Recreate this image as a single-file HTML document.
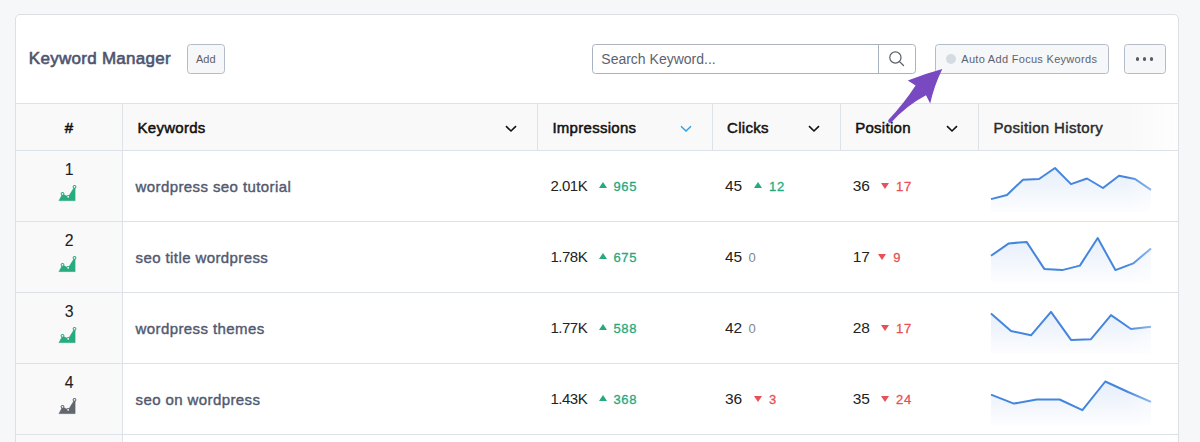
<!DOCTYPE html>
<html><head><meta charset="utf-8"><style>
*{box-sizing:border-box;margin:0;padding:0}
html,body{width:1200px;height:442px;overflow:hidden;background:#f6f7f9;font-family:"Liberation Sans",sans-serif}
.a{position:absolute;white-space:nowrap}
#card{position:absolute;left:15px;top:14px;width:1164px;height:470px;background:#fff;border:1px solid #dcdfe4;border-radius:5px;overflow:hidden}
.btn{position:absolute;border:1px solid #b3bcc8;border-radius:3.5px;background:#f6f7f9}
.hl{position:absolute;left:0;width:1164px;height:1px;background:#dde1e8}
.vl{position:absolute;width:1px;background:#dde1e8}
.hd{font-weight:400;color:#111;letter-spacing:0.28px;-webkit-text-stroke:0.5px #111}
.kw{font-weight:400;color:#525970;letter-spacing:0.4px;-webkit-text-stroke:0.4px #525970}
.num{color:#222}
.up{color:#27a97f;letter-spacing:0.6px;-webkit-text-stroke:0.32px #27a97f}
.dn{color:#e84f57;letter-spacing:0.6px;-webkit-text-stroke:0.3px #e84f57}
.zero{color:#7e8791}
</style></head><body>
<div id="card">
<div class="a " style="left:12.80px;top:35.21px;font-size:17px;line-height:17px;letter-spacing:0.28px;-webkit-text-stroke:0.6px #4d5470;color:#4d5470">Keyword Manager</div>
<div class="btn" style="left:171px;top:29px;width:38px;height:30px;"></div>
<div class="a " style="left:180.00px;top:38.59px;font-size:11px;line-height:11px;color:#5a5f67">Add</div>
<div class="btn" style="left:576px;top:29px;width:324px;height:30px;background:#fff;border-color:#a9b3c0"></div>
<div class="a" style="left:862px;top:29px;width:1px;height:30px;background:#a9b3c0"></div>
<div class="a " style="left:585.30px;top:37.15px;font-size:14px;line-height:14px;color:#5c6370">Search Keyword...</div>
<svg class="a" style="left:871px;top:34px" width="20" height="20" viewBox="0 0 20 20"><circle cx="8.4" cy="8.5" r="5.6" fill="none" stroke="#5a606c" stroke-width="1.2"/><line x1="12.5" y1="12.6" x2="16.5" y2="16.5" stroke="#5a606c" stroke-width="1.3" stroke-linecap="round"/></svg>
<div class="btn" style="left:919px;top:29px;width:174px;height:30px;"></div>
<div class="a" style="left:930px;top:39px;width:10px;height:10px;border-radius:50%;background:#d6dbe2"></div>
<div class="a " style="left:945.30px;top:38.59px;font-size:11px;line-height:11px;letter-spacing:0.3px;color:#5c6370">Auto Add Focus Keywords</div>
<div class="btn" style="left:1108px;top:29px;width:42px;height:30px;"></div>
<div class="a" style="left:1119.80px;top:42.10px;width:3.6px;height:3.6px;border-radius:50%;background:#575d66"></div>
<div class="a" style="left:1126.90px;top:42.10px;width:3.6px;height:3.6px;border-radius:50%;background:#575d66"></div>
<div class="a" style="left:1133.90px;top:42.10px;width:3.6px;height:3.6px;border-radius:50%;background:#575d66"></div>
<div class="a" style="left:-1px;top:88px;width:1164px;height:47px;background:#f9f9f9"></div>
<div class="a" style="left:-1px;top:135px;width:107px;height:330px;background:#f9f9fa"></div>
<div class="hl" style="top:88px"></div>
<div class="hl" style="top:135px"></div>
<div class="hl" style="top:206px"></div>
<div class="hl" style="top:277px"></div>
<div class="hl" style="top:348px"></div>
<div class="hl" style="top:419px"></div>
<div class="vl" style="left:106px;top:88px;height:400px"></div>
<div class="vl" style="left:521px;top:88px;height:47px"></div>
<div class="vl" style="left:696px;top:88px;height:47px"></div>
<div class="vl" style="left:824px;top:88px;height:47px"></div>
<div class="vl" style="left:962px;top:88px;height:47px"></div>
<div class="a hd" style="left:48.80px;top:104.70px;font-size:15px;line-height:15px;">#</div>
<div class="a hd" style="left:121.50px;top:104.70px;font-size:15px;line-height:15px;">Keywords</div>
<div class="a hd" style="left:536.40px;top:104.70px;font-size:15px;line-height:15px;">Impressions</div>
<div class="a hd" style="left:711.10px;top:104.70px;font-size:15px;line-height:15px;">Clicks</div>
<div class="a hd" style="left:839.20px;top:104.70px;font-size:15px;line-height:15px;">Position</div>
<div class="a hd" style="left:977.40px;top:104.70px;font-size:15px;line-height:15px;color:#2b2b2b;-webkit-text-stroke:0.45px #2b2b2b;letter-spacing:0.35px">Position History</div>
<svg class="a" style="left:489.1px;top:110px" width="12" height="8" viewBox="0 0 12 8"><path d="M1 1.2 L6 6 L11 1.2" fill="none" stroke="#111" stroke-width="1.6"/></svg>
<svg class="a" style="left:664.3px;top:110px" width="12" height="8" viewBox="0 0 12 8"><path d="M1 1.2 L6 6 L11 1.2" fill="none" stroke="#2c9fe6" stroke-width="1.4"/></svg>
<svg class="a" style="left:792.3px;top:110px" width="12" height="8" viewBox="0 0 12 8"><path d="M1 1.2 L6 6 L11 1.2" fill="none" stroke="#111" stroke-width="1.6"/></svg>
<svg class="a" style="left:929.8px;top:110px" width="12" height="8" viewBox="0 0 12 8"><path d="M1 1.2 L6 6 L11 1.2" fill="none" stroke="#111" stroke-width="1.6"/></svg>
<div class="a " style="left:48.70px;top:146.53px;font-size:15.8px;line-height:15.8px;color:#1e1e1e;width:8.8px;text-align:center;-webkit-text-stroke:0.1px #1e1e1e">1</div>
<svg class="a" style="left:42px;top:169px" width="20" height="18" viewBox="0 0 20 18"><path d="M0.8 16.7 L4.5 9.8 L10.2 12.8 L16.5 2.8 L17.2 3.5 L17.2 16.7 Z" fill="#29ab80" stroke="#29ab80" stroke-width="0.3"/><circle cx="4.5" cy="9.8" r="1.9" fill="#29ab80"/><circle cx="4.5" cy="9.8" r="0.9" fill="#fff"/><circle cx="10.2" cy="12.8" r="1.9" fill="#29ab80"/><circle cx="10.2" cy="12.8" r="0.9" fill="#fff"/><circle cx="16.5" cy="2.8" r="1.9" fill="#29ab80"/><circle cx="16.5" cy="2.8" r="0.9" fill="#fff"/></svg>
<div class="a kw" style="left:119.60px;top:164.30px;font-size:15px;line-height:15px;">wordpress seo tutorial</div>
<div class="a" style="left:0;top:0"></div><div class="a num" style="left:534.50px;top:163.30px;font-size:15px;line-height:15px;letter-spacing:-0.5px">2.01K</div>
<svg class="a" style="left:582.50px;top:167.00px" width="8" height="6" viewBox="0 0 8 6"><path d="M0 6 L4 0 L8 6 Z" fill="#27a97f"/></svg>
<div class="a up" style="left:597.50px;top:165.00px;font-size:13px;line-height:13px;">965</div>
<div class="a num" style="left:708.90px;top:162.88px;font-size:15.5px;line-height:15.5px;letter-spacing:0px">45</div>
<svg class="a" style="left:738.10px;top:167.00px" width="8" height="6" viewBox="0 0 8 6"><path d="M0 6 L4 0 L8 6 Z" fill="#27a97f"/></svg>
<div class="a up" style="left:753.10px;top:165.00px;font-size:13px;line-height:13px;">12</div>
<div class="a num" style="left:836.70px;top:162.88px;font-size:15.5px;line-height:15.5px;letter-spacing:0px">36</div>
<svg class="a" style="left:865.10px;top:168.00px" width="8" height="6" viewBox="0 0 8 6"><path d="M0 0 L8 0 L4 6 Z" fill="#e84f57"/></svg>
<div class="a dn" style="left:880.10px;top:165.00px;font-size:13px;line-height:13px;">17</div>
<svg class="a" style="left:973px;top:147px" width="166" height="50" viewBox="0 0 166 50"><defs><linearGradient id="g0" x1="0" y1="0" x2="0" y2="1"><stop offset="0" stop-color="#e6eefa"/><stop offset="1" stop-color="#e6eefa" stop-opacity="0.1"/></linearGradient></defs><path d="M2.0,50 L2.0,37.1 L18.0,33.0 L34.0,17.7 L50.0,17.0 L66.0,6.0 L82.0,22.1 L98.0,16.5 L114.0,26.0 L130.0,13.8 L146.0,17.0 L162.0,27.9 L162.0,50 Z" fill="url(#g0)"/><polyline points="2.0,37.1 18.0,33.0 34.0,17.7 50.0,17.0 66.0,6.0 82.0,22.1 98.0,16.5 114.0,26.0 130.0,13.8 146.0,17.0 162.0,27.9" fill="none" stroke="#4486de" stroke-width="2" stroke-linejoin="round"/></svg>
<div class="a " style="left:48.70px;top:217.53px;font-size:15.8px;line-height:15.8px;color:#1e1e1e;width:8.8px;text-align:center;-webkit-text-stroke:0.1px #1e1e1e">2</div>
<svg class="a" style="left:42px;top:240px" width="20" height="18" viewBox="0 0 20 18"><path d="M0.8 16.7 L4.5 9.8 L10.2 12.8 L16.5 2.8 L17.2 3.5 L17.2 16.7 Z" fill="#29ab80" stroke="#29ab80" stroke-width="0.3"/><circle cx="4.5" cy="9.8" r="1.9" fill="#29ab80"/><circle cx="4.5" cy="9.8" r="0.9" fill="#fff"/><circle cx="10.2" cy="12.8" r="1.9" fill="#29ab80"/><circle cx="10.2" cy="12.8" r="0.9" fill="#fff"/><circle cx="16.5" cy="2.8" r="1.9" fill="#29ab80"/><circle cx="16.5" cy="2.8" r="0.9" fill="#fff"/></svg>
<div class="a kw" style="left:119.60px;top:235.30px;font-size:15px;line-height:15px;">seo title wordpress</div>
<div class="a" style="left:0;top:0"></div><div class="a num" style="left:534.50px;top:234.30px;font-size:15px;line-height:15px;letter-spacing:-0.5px">1.78K</div>
<svg class="a" style="left:582.50px;top:238.00px" width="8" height="6" viewBox="0 0 8 6"><path d="M0 6 L4 0 L8 6 Z" fill="#27a97f"/></svg>
<div class="a up" style="left:597.50px;top:236.00px;font-size:13px;line-height:13px;">675</div>
<div class="a num" style="left:708.90px;top:233.88px;font-size:15.5px;line-height:15.5px;letter-spacing:0px">45</div>
<div class="a zero" style="left:732.40px;top:236.00px;font-size:13px;line-height:13px;">0</div>
<div class="a num" style="left:836.70px;top:233.88px;font-size:15.5px;line-height:15.5px;letter-spacing:0px">17</div>
<svg class="a" style="left:862.30px;top:239.00px" width="8" height="6" viewBox="0 0 8 6"><path d="M0 0 L8 0 L4 6 Z" fill="#e84f57"/></svg>
<div class="a dn" style="left:877.30px;top:236.00px;font-size:13px;line-height:13px;">9</div>
<svg class="a" style="left:973px;top:218px" width="166" height="50" viewBox="0 0 166 50"><defs><linearGradient id="g1" x1="0" y1="0" x2="0" y2="1"><stop offset="0" stop-color="#e6eefa"/><stop offset="1" stop-color="#e6eefa" stop-opacity="0.1"/></linearGradient></defs><path d="M2.0,50 L2.0,22.8 L19.8,10.4 L37.6,8.9 L55.3,35.9 L73.1,37.1 L90.9,32.6 L108.7,5.0 L126.4,37.1 L144.2,30.4 L162.0,15.5 L162.0,50 Z" fill="url(#g1)"/><polyline points="2.0,22.8 19.8,10.4 37.6,8.9 55.3,35.9 73.1,37.1 90.9,32.6 108.7,5.0 126.4,37.1 144.2,30.4 162.0,15.5" fill="none" stroke="#4486de" stroke-width="2" stroke-linejoin="round"/></svg>
<div class="a " style="left:48.70px;top:288.53px;font-size:15.8px;line-height:15.8px;color:#1e1e1e;width:8.8px;text-align:center;-webkit-text-stroke:0.1px #1e1e1e">3</div>
<svg class="a" style="left:42px;top:311px" width="20" height="18" viewBox="0 0 20 18"><path d="M0.8 16.7 L4.5 9.8 L10.2 12.8 L16.5 2.8 L17.2 3.5 L17.2 16.7 Z" fill="#29ab80" stroke="#29ab80" stroke-width="0.3"/><circle cx="4.5" cy="9.8" r="1.9" fill="#29ab80"/><circle cx="4.5" cy="9.8" r="0.9" fill="#fff"/><circle cx="10.2" cy="12.8" r="1.9" fill="#29ab80"/><circle cx="10.2" cy="12.8" r="0.9" fill="#fff"/><circle cx="16.5" cy="2.8" r="1.9" fill="#29ab80"/><circle cx="16.5" cy="2.8" r="0.9" fill="#fff"/></svg>
<div class="a kw" style="left:119.60px;top:306.30px;font-size:15px;line-height:15px;">wordpress themes</div>
<div class="a" style="left:0;top:0"></div><div class="a num" style="left:534.50px;top:305.30px;font-size:15px;line-height:15px;letter-spacing:-0.5px">1.77K</div>
<svg class="a" style="left:582.50px;top:309.00px" width="8" height="6" viewBox="0 0 8 6"><path d="M0 6 L4 0 L8 6 Z" fill="#27a97f"/></svg>
<div class="a up" style="left:597.50px;top:307.00px;font-size:13px;line-height:13px;">588</div>
<div class="a num" style="left:708.90px;top:304.88px;font-size:15.5px;line-height:15.5px;letter-spacing:0px">42</div>
<div class="a zero" style="left:732.40px;top:307.00px;font-size:13px;line-height:13px;">0</div>
<div class="a num" style="left:836.70px;top:304.88px;font-size:15.5px;line-height:15.5px;letter-spacing:0px">28</div>
<svg class="a" style="left:865.10px;top:310.00px" width="8" height="6" viewBox="0 0 8 6"><path d="M0 0 L8 0 L4 6 Z" fill="#e84f57"/></svg>
<div class="a dn" style="left:880.10px;top:307.00px;font-size:13px;line-height:13px;">17</div>
<svg class="a" style="left:973px;top:289px" width="166" height="50" viewBox="0 0 166 50"><defs><linearGradient id="g2" x1="0" y1="0" x2="0" y2="1"><stop offset="0" stop-color="#e6eefa"/><stop offset="1" stop-color="#e6eefa" stop-opacity="0.1"/></linearGradient></defs><path d="M2.0,50 L2.0,9.4 L22.0,26.9 L42.0,31.3 L62.0,7.9 L82.0,35.9 L102.0,35.2 L122.0,11.1 L142.0,25.0 L162.0,22.8 L162.0,50 Z" fill="url(#g2)"/><polyline points="2.0,9.4 22.0,26.9 42.0,31.3 62.0,7.9 82.0,35.9 102.0,35.2 122.0,11.1 142.0,25.0 162.0,22.8" fill="none" stroke="#4486de" stroke-width="2" stroke-linejoin="round"/></svg>
<div class="a " style="left:48.70px;top:359.53px;font-size:15.8px;line-height:15.8px;color:#1e1e1e;width:8.8px;text-align:center;-webkit-text-stroke:0.1px #1e1e1e">4</div>
<svg class="a" style="left:42px;top:382px" width="20" height="18" viewBox="0 0 20 18"><path d="M0.8 16.7 L4.5 9.8 L10.2 12.8 L16.5 2.8 L17.2 3.5 L17.2 16.7 Z" fill="#62666d" stroke="#62666d" stroke-width="0.3"/><circle cx="4.5" cy="9.8" r="1.9" fill="#62666d"/><circle cx="4.5" cy="9.8" r="0.9" fill="#fff"/><circle cx="10.2" cy="12.8" r="1.9" fill="#62666d"/><circle cx="10.2" cy="12.8" r="0.9" fill="#fff"/><circle cx="16.5" cy="2.8" r="1.9" fill="#62666d"/><circle cx="16.5" cy="2.8" r="0.9" fill="#fff"/></svg>
<div class="a kw" style="left:119.60px;top:377.30px;font-size:15px;line-height:15px;">seo on wordpress</div>
<div class="a" style="left:0;top:0"></div><div class="a num" style="left:534.50px;top:376.30px;font-size:15px;line-height:15px;letter-spacing:-0.5px">1.43K</div>
<svg class="a" style="left:582.50px;top:380.00px" width="8" height="6" viewBox="0 0 8 6"><path d="M0 6 L4 0 L8 6 Z" fill="#27a97f"/></svg>
<div class="a up" style="left:597.50px;top:378.00px;font-size:13px;line-height:13px;">368</div>
<div class="a num" style="left:708.90px;top:375.88px;font-size:15.5px;line-height:15.5px;letter-spacing:0px">36</div>
<svg class="a" style="left:738.10px;top:381.00px" width="8" height="6" viewBox="0 0 8 6"><path d="M0 0 L8 0 L4 6 Z" fill="#e84f57"/></svg>
<div class="a dn" style="left:753.10px;top:378.00px;font-size:13px;line-height:13px;">3</div>
<div class="a num" style="left:836.70px;top:375.88px;font-size:15.5px;line-height:15.5px;letter-spacing:0px">35</div>
<svg class="a" style="left:865.10px;top:381.00px" width="8" height="6" viewBox="0 0 8 6"><path d="M0 0 L8 0 L4 6 Z" fill="#e84f57"/></svg>
<div class="a dn" style="left:880.10px;top:378.00px;font-size:13px;line-height:13px;">24</div>
<svg class="a" style="left:973px;top:360px" width="166" height="50" viewBox="0 0 166 50"><defs><linearGradient id="g3" x1="0" y1="0" x2="0" y2="1"><stop offset="0" stop-color="#e6eefa"/><stop offset="1" stop-color="#e6eefa" stop-opacity="0.1"/></linearGradient></defs><path d="M2.0,50 L2.0,19.6 L24.9,28.6 L47.7,24.5 L70.6,24.5 L93.4,35.2 L116.3,6.5 L139.1,17.0 L162.0,26.9 L162.0,50 Z" fill="url(#g3)"/><polyline points="2.0,19.6 24.9,28.6 47.7,24.5 70.6,24.5 93.4,35.2 116.3,6.5 139.1,17.0 162.0,26.9" fill="none" stroke="#4486de" stroke-width="2" stroke-linejoin="round"/></svg>
<div class="a" style="left:1110px;top:88px;width:54px;height:400px;background:linear-gradient(to right,rgba(255,255,255,0),rgba(255,255,255,0.85))"></div>
<div class="hl" style="top:88px;left:1090px;width:74px"></div>
<div class="hl" style="top:135px;left:1090px;width:74px"></div>
<div class="hl" style="top:206px;left:1090px;width:74px"></div>
<div class="hl" style="top:277px;left:1090px;width:74px"></div>
<div class="hl" style="top:348px;left:1090px;width:74px"></div>
<div class="hl" style="top:419px;left:1090px;width:74px"></div>

</div>
<svg class="a" style="left:0;top:0" width="1200" height="442" viewBox="0 0 1200 442"><path d="M942.3 68.9 Q925 73.5 907.8 80.5 L915.6 85.4 Q903.5 103.9 888.3 119.9 Q887.8 123.6 891.2 122.5 Q906.1 105.75 926 95.25 L930.2 103.4 Q934 86 942.3 68.9 Z" fill="#7849c1"/></svg>
</body></html>
